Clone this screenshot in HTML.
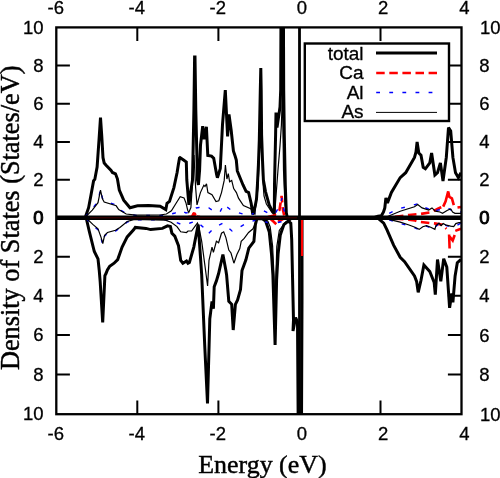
<!DOCTYPE html>
<html><head><meta charset="utf-8"><title>Density of States</title>
<style>html,body{margin:0;padding:0;background:#fff}svg{display:block}</style></head>
<body>
<svg width="500" height="478" viewBox="0 0 500 478">
<rect width="500" height="478" fill="#fff"/>
<defs><clipPath id="c"><rect x="56.3" y="27.4" width="405.2" height="386.8"/></clipPath></defs>
<g clip-path="url(#c)" fill="none" stroke-linejoin="miter" stroke-miterlimit="2.6">
<path d="M84.5,217.7 L85.4,217.1 L88.6,207.7 L91.0,195.0 L93.6,180.7 L94.8,179.4 L97.1,167.0 L99.0,140.0 L100.5,117.6 L101.7,135.1 L103.0,157.7 L104.2,163.0 L106.1,165.2 L111.1,170.5 L112.4,172.5 L115.5,173.8 L117.4,178.8 L119.3,190.1 L123.7,200.1 L130.0,207.7 L137.5,205.8 L148.8,205.4 L160.1,206.2 L165.8,209.6 L167.0,203.3 L169.5,201.4 L173.9,187.6 L177.1,172.5 L178.3,165.0 L179.5,158.0 L180.0,157.6 L183.2,159.8 L186.3,162.0 L186.8,180.0 L188.9,204.9 L191.0,190.0 L192.5,180.0 L193.9,110.0 L194.6,57.0 L195.0,57.0 L195.8,110.0 L197.5,180.0 L198.4,185.0 L199.6,170.0 L200.5,145.0 L202.7,126.1 L204.2,139.3 L206.4,126.8 L207.8,155.4 L211.5,156.1 L213.7,158.3 L216.6,174.4 L217.4,177.7 L220.3,168.6 L222.5,124.6 L225.3,90.0 L227.6,136.4 L229.0,114.4 L231.2,130.5 L233.4,151.0 L235.1,156.0 L236.3,160.0 L237.3,171.0 L242.9,184.7 L246.1,191.3 L248.6,192.5 L251.2,203.5 L252.8,214.5 L255.4,205.0 L256.5,199.0 L257.4,185.0 L258.4,165.0 L259.3,140.0 L260.3,90.0 L260.8,68.0 L261.2,90.0 L261.6,135.0 L262.5,160.0 L263.4,180.0 L265.5,191.6 L269.2,204.8 L272.8,212.1 L274.3,213.6 L274.5,185.0 L275.6,135.0 L276.0,112.5 L277.0,127.5 L280.0,107.0 L280.7,90.0 L281.0,10.0 L283.4,10.0 L283.7,90.0 L284.3,135.0 L285.3,185.0 L286.3,212.9 L287.3,217.7" stroke="#000" stroke-width="3"/>
<path d="M373.8,217.7 L378.0,216.3 L381.5,215.6 L383.5,212.0 L384.8,207.9 L385.9,198.0 L387.5,203.0 L388.1,201.3 L391.4,192.5 L400.2,177.6 L405.7,172.7 L414.5,157.4 L416.0,152.0 L417.1,142.0 L418.8,153.0 L421.0,155.2 L423.2,167.3 L425.4,168.8 L429.8,162.9 L431.6,153.0 L434.9,175.0 L437.5,172.7 L440.4,162.9 L443.0,181.0 L446.3,157.4 L448.5,127.7 L450.7,131.0 L452.9,157.4 L455.5,172.7 L458.4,177.6 L461.0,172.7" stroke="#000" stroke-width="3"/>
<path d="M85.5,217.7 L86.2,217.9 L89.2,231.0 L94.3,251.5 L98.0,258.9 L99.2,270.0 L100.2,282.0 L102.7,322.5 L104.9,275.6 L106.0,273.5 L107.4,270.0 L109.7,266.2 L114.1,263.2 L117.7,259.6 L122.1,247.1 L127.2,236.9 L133.8,229.6 L135.3,227.4 L146.0,228.4 L150.6,229.6 L162.4,228.4 L167.5,225.9 L170.4,226.6 L171.9,233.2 L174.8,236.2 L178.5,245.7 L180.7,260.3 L182.9,263.2 L186.5,261.0 L188.0,263.2 L189.4,262.5 L193.8,247.1 L198.2,224.5 L200.4,255.9 L201.7,275.0 L204.7,345.0 L207.5,403.5 L209.1,345.0 L209.8,318.9 L212.0,301.4 L213.4,308.7 L214.2,286.7 L216.4,280.9 L218.6,273.5 L222.9,254.5 L225.9,270.6 L226.6,275.0 L228.8,301.4 L231.7,304.3 L233.2,330.0 L235.4,304.3 L237.6,299.9 L240.5,289.6 L242.0,270.6 L245.9,259.8 L248.8,248.1 L253.9,241.5 L255.4,224.6 L256.8,218.8 L262.0,218.5 L265.6,221.0 L269.3,232.0 L271.5,253.9 L272.9,275.0 L275.1,345.0 L276.6,280.0 L278.1,253.9 L280.3,234.9 L283.9,224.6 L288.3,221.0 L290.8,223.2 L291.7,239.3 L292.6,280.0 L293.5,320.0 L293.0,331.0 L295.6,317.5 L297.5,322.0 L298.2,425.0 L301.5,425.0 L302.0,300.0 L302.0,217.7" stroke="#000" stroke-width="3"/>
<path d="M377.0,217.7 L378.2,218.4 L383.7,223.2 L387.0,229.8 L393.6,245.2 L400.2,257.3 L404.6,261.6 L414.5,275.9 L416.6,281.4 L418.2,292.4 L421.0,280.3 L423.9,264.9 L429.8,271.5 L434.2,282.5 L435.3,294.6 L437.5,259.5 L440.8,281.4 L443.7,258.8 L446.8,267.1 L449.6,307.8 L451.8,293.5 L452.9,302.3 L455.1,275.9 L457.3,262.7 L461.0,259.5" stroke="#000" stroke-width="3"/>
<path d="M188.0,217.0 L192.0,216.5 L194.3,212.5 L196.5,216.5 L200.0,217.0" stroke="#f00" stroke-width="2.6" stroke-dasharray="8.5 4.6"/>
<path d="M268.0,217.0 L274.0,215.5 L276.9,213.2 L279.5,210.0 L281.6,196.0 L283.0,210.0 L284.5,217.0" stroke="#f00" stroke-width="2.6" stroke-dasharray="8.5 4.6"/>
<path d="M395.0,216.8 L409.0,215.0 L420.0,214.0 L431.0,212.3 L437.5,209.0 L440.0,207.7 L442.5,206.8" stroke="#f00" stroke-width="2.6" stroke-dasharray="8.5 4.6"/>
<path d="M270.0,218.5 L274.0,222.0 L277.0,225.0 L279.0,221.0 L283.0,219.0" stroke="#f00" stroke-width="2.6" stroke-dasharray="8.5 4.6"/>
<path d="M395.0,218.7 L409.0,219.6 L415.0,220.5 L420.2,222.0 L430.7,223.1 L435.9,223.6 L442.2,224.6 L446.4,228.8" stroke="#f00" stroke-width="2.6" stroke-dasharray="8.5 4.6"/>
<path d="M301.4,219 V256" stroke="#f00" stroke-width="3.4"/>
<circle cx="194.3" cy="214.3" r="2.1" fill="#f00" stroke="none"/>
<path d="M443.2,206.6 L445.6,201.4 L448.2,191.4 L449.4,197.0 L451.9,198.3 L453.8,205.2 M457.5,207.5 L461.0,207.0 M455.3,230.9 L461.0,228.8 M449.1,234.5 L449.6,248.5 M449.2,236 L452.7,240.5 L454.7,235" stroke="#f00" stroke-width="2.6"/>
<path d="M85.4,217.0 L92.0,209.0 L98.0,201.5 L100.5,189.0 L102.4,198.0 L104.2,201.0 L116.2,205.0 L118.7,209.0 L126.2,213.5 L136.0,215.5 L166.0,215.5 L175.0,213.0 L181.0,210.5 L186.0,213.0 L190.0,212.0 L196.0,208.0 L199.0,207.5 L203.0,209.0 L209.0,208.0 L215.0,212.0 L220.0,212.0 L224.0,204.0 L227.0,207.0 L231.0,210.0 L236.0,212.0 L243.0,214.0 L252.0,214.0 L258.0,212.0 L262.0,210.0 L268.0,213.0 L275.0,214.0 L280.0,205.0 L282.0,198.0 L284.0,210.0 L286.0,216.0" stroke="#00f" stroke-width="1.4" stroke-dasharray="3.8 9.3"/>
<path d="M389.2,213.4 L398.0,209.0 L409.0,206.2 L418.8,203.5 L422.0,206.5 L428.7,209.0 L432.0,207.0 L435.3,210.5 L441.9,209.5 L447.4,207.5 L455.0,213.0 L461.0,212.0" stroke="#00f" stroke-width="1.4" stroke-dasharray="3.8 9.3"/>
<path d="M86.2,218.5 L92.5,225.2 L98.0,229.8 L100.9,238.0 L102.8,244.5 L104.6,236.0 L107.5,233.2 L115.5,231.0 L119.9,228.0 L127.2,222.0 L134.6,219.8 L166.0,219.8 L175.0,222.0 L183.0,225.0 L190.0,223.0 L196.0,221.0 L203.0,227.0 L208.0,234.0 L214.0,228.0 L223.0,223.0 L232.0,231.0 L238.0,228.0 L247.0,223.0 L256.0,220.0 L266.0,222.0 L272.0,224.0 L280.0,222.0 L290.0,220.0" stroke="#00f" stroke-width="1.4" stroke-dasharray="3.8 9.3"/>
<path d="M389.2,219.9 L400.0,223.3 L409.0,226.0 L415.0,227.8 L419.2,229.9 L422.8,227.2 L426.5,226.2 L430.7,227.8 L434.9,229.9 L436.2,226.2 L439.0,223.6 L441.1,226.2 L443.2,224.1 L446.4,225.7 L453.7,227.2 L461.0,223.1" stroke="#00f" stroke-width="1.4" stroke-dasharray="3.8 9.3"/>
<path d="M85.4,217.0 L92.3,210.2 L98.0,202.7 L100.5,190.1 L102.4,198.9 L104.2,202.0 L116.2,205.8 L118.7,209.6 L126.2,214.0 L136.0,215.2 L160.0,215.0 L166.4,214.0 L171.4,210.8 L176.4,202.7 L180.2,196.6 L184.0,197.9 L185.9,202.7 L187.7,210.2 L188.8,212.4 L190.9,207.6 L192.9,176.3 L194.0,155.0 L195.6,187.2 L197.0,204.9 L200.4,192.6 L203.8,185.2 L205.0,186.5 L206.5,183.8 L207.9,192.6 L212.0,194.7 L216.0,201.5 L218.8,200.8 L221.5,192.6 L224.2,180.4 L225.4,165.0 L226.9,179.0 L228.3,173.6 L229.6,181.8 L231.7,180.4 L233.7,188.6 L236.4,192.6 L238.5,198.1 L243.4,205.5 L250.7,208.7 L254.9,213.9 L258.0,187.8 L260.0,140.0 L261.0,110.0 L262.0,140.0 L262.6,178.0 L264.0,196.0 L266.4,204.0 L271.6,211.8 L274.7,213.5 L277.9,171.0 L280.0,145.9 L281.4,125.0 L282.5,90.0 L283.5,170.0 L285.0,205.0 L287.0,216.5" stroke="#000" stroke-width="1.2"/>
<path d="M387.0,216.7 L400.2,211.2 L414.5,206.8 L417.7,204.6 L422.1,207.9 L428.7,210.1 L432.0,207.9 L435.3,211.2 L440.0,212.0 L442.5,213.3 L447.5,210.2 L450.7,208.9 L452.6,212.0 L455.0,213.3 L461.0,213.3" stroke="#000" stroke-width="1.2"/>
<path d="M86.2,218.0 L92.8,224.4 L98.0,228.8 L100.9,236.9 L102.8,243.5 L104.6,235.4 L107.5,232.5 L115.5,230.3 L119.9,227.4 L127.2,221.5 L134.6,219.3 L165.3,220.1 L171.1,222.2 L177.0,226.6 L180.7,231.8 L186.5,232.5 L188.0,231.0 L191.6,231.0 L195.3,225.9 L197.5,223.0 L198.8,226.6 L201.7,241.3 L204.6,263.2 L207.6,286.0 L209.0,260.3 L212.0,247.1 L213.4,252.3 L216.4,241.3 L218.6,242.7 L221.5,233.2 L223.7,231.8 L225.9,237.6 L228.8,250.1 L231.0,253.0 L233.9,263.2 L236.9,254.5 L239.8,248.6 L241.2,241.3 L244.2,238.4 L248.6,232.5 L253.0,228.8 L255.1,223.7 L256.5,219.0 L266.0,219.5 L267.8,221.0 L270.2,227.0 L272.6,246.0 L274.2,280.0 L275.1,312.0 L275.8,280.0 L276.8,246.6 L279.3,230.5 L285.4,222.3 L290.0,220.5 L292.0,219.0" stroke="#000" stroke-width="1.2"/>
<path d="M387.0,218.8 L400.2,222.1 L409.0,225.0 L415.0,227.3 L419.2,229.4 L422.8,226.7 L426.5,225.7 L430.7,227.3 L434.9,229.4 L435.9,225.7 L439.0,223.1 L441.1,225.7 L443.2,223.6 L446.4,225.2 L450.6,226.2 L453.7,226.7 L455.8,223.6 L458.9,222.6 L461.0,222.6" stroke="#000" stroke-width="1.2"/>
</g>
<line x1="56.3" y1="217.8" x2="461.5" y2="217.8" stroke="#000" stroke-width="4.4"/>
<line x1="90" y1="217.8" x2="297" y2="217.8" stroke="#900" stroke-width="0.9" opacity="0.5"/>
<line x1="299.5" y1="27.4" x2="299.5" y2="414.2" stroke="#000" stroke-width="2.8"/>
<rect x="56.3" y="27.4" width="405.2" height="386.8" fill="none" stroke="#000" stroke-width="2.3"/>
<path d="M137.3,27.4 v13.6 M137.3,414.2 v-13.6 M218.4,27.4 v13.6 M218.4,414.2 v-13.6 M380.5,27.4 v13.6 M380.5,414.2 v-13.6 M56.3,65.6 h13.6 M461.5,65.6 h-13.6 M56.3,103.8 h13.6 M461.5,103.8 h-13.6 M56.3,141.9 h13.6 M461.5,141.9 h-13.6 M56.3,179.8 h13.6 M461.5,179.8 h-13.6 M56.3,256.7 h13.6 M461.5,256.7 h-13.6 M56.3,295.8 h13.6 M461.5,295.8 h-13.6 M56.3,335.0 h13.6 M461.5,335.0 h-13.6 M56.3,374.4 h13.6 M461.5,374.4 h-13.6" stroke="#000" stroke-width="2" fill="none"/>
<rect x="304.8" y="43.5" width="144.2" height="77.5" fill="#fff" stroke="#000" stroke-width="2.4"/>
<g font-family="'Liberation Sans', sans-serif" font-size="19" fill="#000" stroke="#000" stroke-width="0.3">
<text x="363.6" y="59.6" text-anchor="end">total</text>
<text x="363.6" y="78.8" text-anchor="end">Ca</text>
<text x="363.6" y="98.5" text-anchor="end">Al</text>
<text x="363.6" y="118" text-anchor="end">As</text>
</g>
<line x1="376" y1="53" x2="437" y2="53" stroke="#000" stroke-width="3"/>
<line x1="376.2" y1="73" x2="437" y2="73" stroke="#f00" stroke-width="2.7" stroke-dasharray="8.5 4.6"/>
<line x1="376.2" y1="92.5" x2="437" y2="92.5" stroke="#00f" stroke-width="1.4" stroke-dasharray="3.8 9.3"/>
<line x1="376" y1="112.4" x2="437" y2="112.4" stroke="#000" stroke-width="1"/>
<g font-family="'Liberation Sans', sans-serif" font-size="18.5" fill="#000" stroke="#000" stroke-width="0.3">
<text x="55.7" y="13.8" text-anchor="middle">-6</text>
<text x="55.7" y="440.2" text-anchor="middle">-6</text>
<text x="136.8" y="13.8" text-anchor="middle">-4</text>
<text x="136.8" y="440.2" text-anchor="middle">-4</text>
<text x="217.8" y="13.8" text-anchor="middle">-2</text>
<text x="217.8" y="440.2" text-anchor="middle">-2</text>
<text x="302" y="13.8" text-anchor="middle">0</text>
<text x="302" y="440.2" text-anchor="middle">0</text>
<text x="383.2" y="13.8" text-anchor="middle">2</text>
<text x="383.2" y="440.2" text-anchor="middle">2</text>
<text x="464.3" y="13.8" text-anchor="middle">4</text>
<text x="464.3" y="440.2" text-anchor="middle">4</text>
<text x="43.6" y="33.6" text-anchor="end">10</text>
<text x="479.9" y="33.9">10</text>
<text x="43.6" y="71.8" text-anchor="end">8</text>
<text x="479.2" y="72.1">8</text>
<text x="43.6" y="110.0" text-anchor="end">6</text>
<text x="479.2" y="110.3">6</text>
<text x="43.6" y="148.1" text-anchor="end">4</text>
<text x="479.2" y="148.4">4</text>
<text x="43.6" y="186.0" text-anchor="end">2</text>
<text x="479.2" y="186.3">2</text>
<text x="43.6" y="224.0" text-anchor="end" stroke-width="1.0">0</text>
<text x="479.2" y="224.3" stroke-width="1.0">0</text>
<text x="43.6" y="262.9" text-anchor="end">2</text>
<text x="479.2" y="263.2">2</text>
<text x="43.6" y="302.0" text-anchor="end">4</text>
<text x="479.2" y="302.3">4</text>
<text x="43.6" y="341.2" text-anchor="end">6</text>
<text x="479.2" y="341.5">6</text>
<text x="43.6" y="380.6" text-anchor="end">8</text>
<text x="479.2" y="380.9">8</text>
<text x="43.6" y="420.4" text-anchor="end">10</text>
<text x="479.9" y="420.7">10</text>
</g>
<g font-family="'Liberation Serif', serif" fill="#000" stroke="#000" stroke-width="0.45">
<text x="262.4" y="472.6" font-size="25.9" text-anchor="middle">Energy (eV)</text>
<text transform="translate(18.5,217.8) rotate(-90)" font-size="26.3" text-anchor="middle">Density of States (States/eV)</text>
</g>
</svg>
</body></html>
